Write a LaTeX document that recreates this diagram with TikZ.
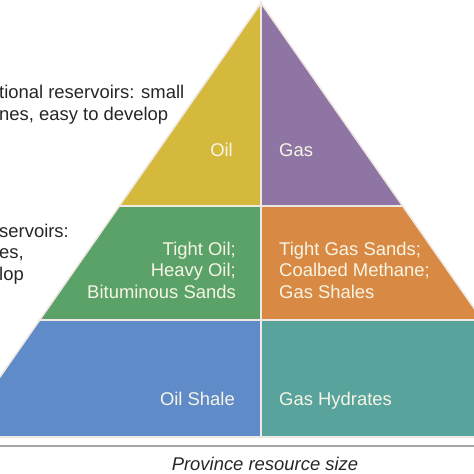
\documentclass[tikz,border=0pt]{standalone}
\usepackage{fontspec}
\setmainfont{Liberation Sans}
\usepackage{tikz}
\definecolor{oilyellow}{RGB}{213,185,60}
\definecolor{gaspurple}{RGB}{142,117,164}
\definecolor{oilgreen}{RGB}{90,162,104}
\definecolor{gasorange}{RGB}{216,138,68}
\definecolor{shaleblue}{RGB}{96,139,201}
\definecolor{hydrateteal}{RGB}{88,163,156}
\definecolor{sepline}{RGB}{240,232,226}
\definecolor{intext}{RGB}{247,245,230}
\definecolor{sidetext}{RGB}{38,38,38}
\newcommand{\pyrfont}{\fontsize{18.5}{22}\selectfont}

\begin{document}
\begin{tikzpicture}[x=1bp,y=-1bp,
		tier/.style={draw=sepline, line width=1.6bp},
		inlabel/.style={text=intext, font=\pyrfont, inner sep=0pt},
		sidelabel/.style={text=sidetext, font=\pyrfont, inner sep=0pt,
			align=left, anchor=north west}]
	\useasboundingbox (0,0) rectangle (474,474);
	\begin{scope}
		\clip (0,0) rectangle (474,474);
		% top tier: oil / gas
		\filldraw[tier, fill=oilyellow] (261,3) -- (119.3,206) -- (261,206) -- cycle;
		\filldraw[tier, fill=gaspurple] (261,3) -- (402.7,206) -- (261,206) -- cycle;
		% middle tier
		\filldraw[tier, fill=oilgreen] (119.3,206) -- (261,206) -- (261,320) -- (39.7,320) -- cycle;
		\filldraw[tier, fill=gasorange] (261,206) -- (402.7,206) -- (482.3,320) -- (261,320) -- cycle;
		% bottom tier
		\filldraw[tier, fill=shaleblue] (39.7,320) -- (261,320) -- (261,437) -- (-41.9,437) -- cycle;
		\filldraw[tier, fill=hydrateteal] (261,320) -- (482.3,320) -- (563.9,437) -- (261,437) -- cycle;
	\end{scope}
	% axis line
	\draw[gray!70, line width=1.4bp] (0,446) -- (474,446);
	% labels in the pyramid
	\node[inlabel, anchor=base east] (oil) at (233,157) {Oil};
	\node[inlabel, anchor=base west] (gas) at (279,157) {Gas};
	\node[inlabel, align=right, anchor=north east] (tightoil) at (236,241.5)
		{Tight Oil;\\Heavy Oil;\\Bituminous Sands};
	\node[inlabel, align=left, anchor=north west] (tightgas) at (279,241.5)
		{Tight Gas Sands;\\Coalbed Methane;\\Gas Shales};
	\node[inlabel, anchor=base east] (oilshale) at (235,405) {Oil Shale};
	\node[inlabel, anchor=base west] (hydrates) at (279,405) {Gas Hydrates};
	% side labels
	\node[sidelabel] (conv) at (-1,85) {tional reservoirs: small\\nes, easy to develop};
	\node[sidelabel] (unconv) at (-1,223.5) {servoirs:\\es,\\lop};
	% caption
	\node[text=sidetext, font=\pyrfont\itshape, inner sep=0pt, anchor=base] (size)
		at (265,470) {Province resource size};
\end{tikzpicture}
\end{document}
